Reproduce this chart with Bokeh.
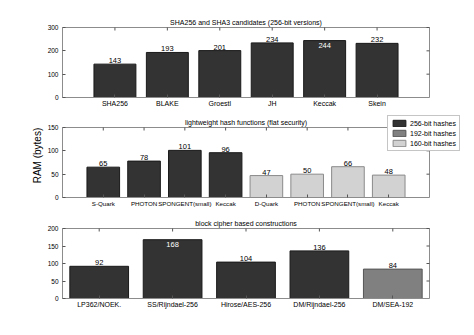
import math
from bokeh.plotting import figure
from bokeh.models import (FixedTicker, Range1d, Legend, LegendItem,
                          ColumnDataSource)
from bokeh.layouts import column
from bokeh.core.properties import value
from bokeh.embed import file_html
from bokeh.resources import INLINE

# ---------------- data ----------------
p1_title = "SHA256 and SHA3 candidates (256-bit versions)"
p1_names = ["SHA256", "BLAKE", "Groestl", "JH", "Keccak", "Skein"]
p1_values = [143, 193, 201, 234, 244, 232]
p1_groups = ["256-bit hashes"] * 6
p1_yticks = [0, 100, 200, 300]

p2_title = "lightweight hash functions (flat security)"
p2_names = ["S-Quark", "PHOTON", "SPONGENT(small)", "Keccak",
            "D-Quark", "PHOTON", "SPONGENT(small)", "Keccak"]
p2_values = [65, 78, 101, 96, 47, 50, 66, 48]
p2_groups = ["256-bit hashes"] * 4 + ["160-bit hashes"] * 4
p2_yticks = [0, 50, 100, 150]

p3_title = "block cipher based constructions"
p3_names = ["LP362/NOEK.", "SS/Rijndael-256", "Hirose/AES-256",
            "DM/Rijndael-256", "DM/SEA-192"]
p3_values = [92, 168, 104, 136, 84]
p3_groups = ["256-bit hashes"] * 4 + ["192-bit hashes"]
p3_yticks = [0, 50, 100, 150, 200]

y_label = "RAM (bytes)"
legend_labels = ["256-bit hashes", "192-bit hashes", "160-bit hashes"]
group_colors = {"256-bit hashes": "#333333",
                "192-bit hashes": "#808080",
                "160-bit hashes": "#d2d2d2"}
group_lines = {"256-bit hashes": "#1a1a1a",
               "192-bit hashes": "#555555",
               "160-bit hashes": "#8a8a8a"}

FONT = "Liberation Sans"
FONT_V = value(FONT)
AXC = "#8c8c8c"
TICKC = "#555555"

# box geometry (pixels) of every axes box
BOX_LEFT, BOX_RIGHT = 62, 429
BOX_H = 70
TICK = 3
EXT_R = 41   # extra frame to the right of the box (room for the legend)
NAN = float("nan")


def style_axis(ax):
    ax.axis_line_color = AXC
    ax.major_tick_line_color = TICKC
    ax.major_tick_in = TICK
    ax.major_tick_out = 0
    ax.minor_tick_line_color = None
    ax.major_label_text_font = FONT
    ax.major_label_text_color = "black"


def panel(title, names, values, groups, yticks, xr, height, top, bottom,
          ylabel=None, legend=False, frame_top=0, xfont="7px"):
    n = len(names)
    xs = list(range(1, n + 1))
    ymax = yticks[-1]
    box_w = BOX_RIGHT - BOX_LEFT
    x_end = xr[0] + (xr[1] - xr[0]) * (box_w + EXT_R) / box_w
    y_end = ymax * (BOX_H + frame_top) / BOX_H
    p = figure(width=474, height=height, x_range=Range1d(xr[0], x_end),
               y_range=Range1d(0, y_end), output_backend="svg",
               toolbar_location=None, min_border_left=BOX_LEFT,
               min_border_right=474 - BOX_RIGHT - EXT_R,
               min_border_top=top - frame_top,
               min_border_bottom=bottom)
    p.grid.visible = False
    p.outline_line_color = None
    p.background_fill_color = "white"
    p.border_fill_color = "white"

    renderers = {}
    for g in legend_labels:
        sel = [i for i in range(n) if groups[i] == g]
        bx = [xs[i] for i in sel] or [NAN]
        bt = [values[i] for i in sel] or [NAN]
        src = ColumnDataSource(dict(x=bx, top=bt))
        renderers[g] = p.vbar(x="x", top="top", width=0.8, source=src,
                              fill_color=group_colors[g],
                              line_color=group_lines[g], line_width=1)

    # axes box: top and right edges + mirrored inward ticks
    p.segment(x0=[xr[0], xr[1]], y0=[ymax, 0], x1=[xr[1], xr[1]],
              y1=[ymax, ymax], line_color=AXC, line_width=1)
    p.ray(x=xs, y=[ymax] * n, length=TICK, length_units="screen",
          angle=-math.pi / 2, line_color=TICKC, line_width=1)
    p.ray(x=[xr[1]] * len(yticks), y=yticks, length=TICK,
          length_units="screen", angle=math.pi, line_color=TICKC,
          line_width=1)

    # title, just above the box
    p.text(x=[(xr[0] + xr[1]) / 2], y=[ymax], text=[title],
           text_align="center", text_baseline="bottom", y_offset=-2,
           text_font=FONT_V, text_font_size="7px", text_color="black")

    # value labels: above bar, or inside (white) when near the top
    out_x, out_y, out_t, in_x, in_y, in_t = [], [], [], [], [], []
    for x, v in zip(xs, values):
        if v / ymax > 0.8:
            in_x.append(x); in_y.append(v); in_t.append(str(v))
        else:
            out_x.append(x); out_y.append(v); out_t.append(str(v))
    p.text(x=out_x, y=out_y, text=out_t, text_align="center",
           text_baseline="bottom", y_offset=-1, text_font=FONT_V,
           text_font_size="7.5px", text_color="black")
    p.text(x=in_x, y=in_y, text=in_t, text_align="center",
           text_baseline="top", y_offset=2, text_font=FONT_V,
           text_font_size="7.5px", text_color="white")

    # main axes
    xa = p.below[0]
    ya = p.left[0]
    xa.ticker = FixedTicker(ticks=xs)
    xa.major_label_overrides = {x: nm for x, nm in zip(xs, names)}
    xa.bounds = (xr[0], xr[1])
    ya.ticker = FixedTicker(ticks=yticks)
    ya.bounds = (0, ymax)
    style_axis(xa)
    style_axis(ya)
    xa.major_label_text_font_size = xfont
    xa.major_label_standoff = 2
    ya.major_label_text_font_size = "6.5px"
    ya.major_label_standoff = 4

    if ylabel:
        ya.axis_label = ylabel
        ya.axis_label_text_font = FONT
        ya.axis_label_text_font_size = "10px"
        ya.axis_label_text_font_style = "normal"
        ya.axis_label_text_color = "black"
        ya.axis_label_standoff = 2

    if legend:
        items = [LegendItem(label=g, renderers=[renderers[g]])
                 for g in legend_labels]
        lg = Legend(items=items, location=(325, 46))
        lg.label_text_font = FONT
        lg.label_text_font_size = "7px"
        lg.label_text_color = "black"
        lg.glyph_width = 16
        lg.glyph_height = 8
        lg.label_height = 8
        lg.label_standoff = 3
        lg.spacing = 2
        lg.padding = 3
        lg.margin = 0
        lg.border_line_color = AXC
        lg.background_fill_alpha = 1
        p.add_layout(lg)
    return p


p1 = panel(p1_title, p1_names, p1_values, p1_groups, p1_yticks, (0, 7),
           110, 27, 13, frame_top=12)
p2 = panel(p2_title, p2_names, p2_values, p2_groups, p2_yticks, (0, 9),
           100, 17, 13, ylabel=y_label, legend=True, frame_top=14,
           xfont="6.2px")
p3 = panel(p3_title, p3_names, p3_values, p3_groups, p3_yticks, (0.5, 5.5),
           125, 18, 37, frame_top=14)

layout = column(p1, p2, p3, spacing=0)
open("out.html", "w").write(file_html(layout, INLINE))
